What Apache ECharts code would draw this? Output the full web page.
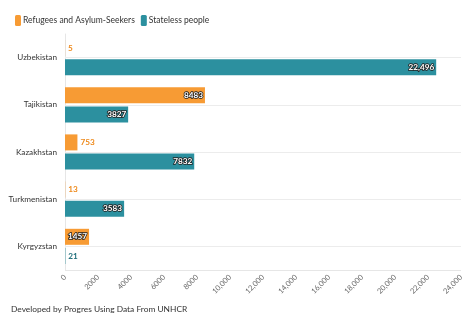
<!DOCTYPE html>
<html>
<head>
<meta charset="utf-8">
<script src="https://cdn.jsdelivr.net/npm/echarts@6/dist/echarts.min.js"></script>
<style>
html, body { margin: 0; padding: 0; background: #fff; }
#main { width: 474px; height: 327px; }
</style>
</head>
<body>
<div id="main"></div>
<script>
// data
var countries = ['Uzbekistan', 'Tajikistan', 'Kazakhstan', 'Turkmenistan', 'Kyrgyzstan'];
var refugees = [5, 8483, 753, 13, 1457];
var stateless = [22496, 3827, 7832, 3583, 21];
var seriesNames = ['Refugees and Asylum-Seekers', 'Stateless people'];
var xTicks = [0, 2000, 4000, 6000, 8000, 10000, 12000, 14000, 16000, 18000, 20000, 22000, 24000];

var orange = '#F79B34';
var teal = '#2C909F';
var font = 'Lato';

// 千分位，小于10000不加逗号
function fmt(v) {
	if(v >= 10000) {
		return String(v).replace(/\B(?=(\d{3})+(?!\d))/g, ',');
	}
	return String(v);
}

// 小的柱子标签放外面
function buildData(values, textColor) {
	var list = [];
	for(var i = 0; i < values.length; i++) {
		var v = values[i];
		if(v > 1000) {
			list.push({
				value: v,
				label: {
					position: 'insideRight',
					distance: 2,
					color: '#fff',
					textBorderColor: '#222',
					textBorderWidth: 1.6
				}
			});
		} else {
			list.push({
				value: v,
				label: {
					position: 'right',
					distance: 3,
					color: textColor
				}
			});
		}
	}
	return list;
}

var barLabel = {
	show: true,
	fontSize: 8.2,
	fontWeight: 'bold',
	fontFamily: font,
	formatter: function(p) { return fmt(p.value); }
};

var myChart = echarts.init(document.getElementById('main'));
var option = {
	animation: false,
	textStyle: { fontFamily: font },
	legend: {
		left: 10,
		top: 10,
		itemWidth: 6,
		itemHeight: 11,
		itemGap: 6,
		icon: 'roundRect',
		textStyle: { fontSize: 8.5, color: '#333', fontFamily: font, padding: [0, 0, 0, -3] },
		data: seriesNames
	},
	grid: {
		left: 65,
		right: 13,
		top: 34,
		bottom: 57,
		containLabel: false,
		outerBoundsMode: 'none'
	},
	xAxis: {
		type: 'value',
		min: 0,
		max: 24000,
		interval: 2000,
		axisLine: { show: false },
		axisTick: { show: false },
		splitLine: { show: false },
		axisLabel: {
			rotate: 45,
			fontSize: 7.5,
			color: '#666',
			fontFamily: font,
			margin: 6,
			formatter: function(v) { return fmt(v); }
		}
	},
	yAxis: {
		type: 'category',
		inverse: true,
		data: countries,
		axisLine: { show: true, lineStyle: { color: '#e6e6e6' } },
		axisTick: { show: false },
		splitLine: { show: false },
		axisLabel: { fontSize: 8.2, color: '#333', fontFamily: font, margin: 8 }
	},
	series: [{
		// 网格线，放在柱子下面
		name: 'grid',
		type: 'line',
		z: 0,
		data: [],
		markLine: {
			silent: true,
			symbol: 'none',
			label: { show: false },
			lineStyle: { color: '#ececec', width: 1, type: 'solid' },
			data: countries.map(function(c) { return { yAxis: c }; })
		}
	}, {
		name: seriesNames[0],
		type: 'bar',
		z: 3,
		barWidth: 16,
		barGap: '20%',
		itemStyle: { color: orange },
		data: buildData(refugees, '#EE8A1C'),
		label: barLabel
	}, {
		name: seriesNames[1],
		type: 'bar',
		z: 3,
		barWidth: 16,
		barGap: '20%',
		itemStyle: { color: teal },
		data: buildData(stateless, '#1F6E7A'),
		label: barLabel
	}],
	graphic: [{
		type: 'line',
		shape: { x1: 65, y1: 270.5, x2: 461, y2: 270.5 },
		style: { stroke: '#e6e6e6', lineWidth: 1 }
	}, {
		type: 'text',
		left: 11,
		top: 305,
		style: { text: 'Developed by Progres Using Data From UNHCR', fontSize: 8.4, fill: '#333', fontFamily: font }
	}]
};
myChart.setOption(option);
</script>
</body>
</html>
